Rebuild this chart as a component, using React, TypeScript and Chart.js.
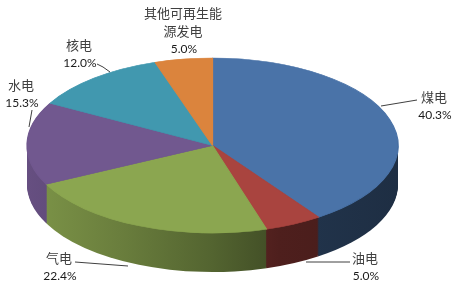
import { useEffect, useRef } from 'react';
import { Chart, registerables } from 'chart.js';

Chart.register(...registerables);

// ---- data ----
const categories = ['煤电', '油电', '气电', '水电', '核电', '其他可再生能源发电'];
const shares = [40.3, 5.0, 22.4, 15.3, 12.0, 5.0];
const valueLabels = ['40.3%', '5.0%', '22.4%', '15.3%', '12.0%', '5.0%'];

// ---- styles ----
const topColors = ['#4A73A8', '#A9443F', '#8BA650', '#71588F', '#4198AF', '#DB843D'];
const ELLIPSE = { cx: 212.5, cy: 145.5, rx: 185.5, ry: 87.5, depth: 39 };
const SIDE_STOPS: [number, number][] = [
  [0, 0.9],
  [0.25, 0.76],
  [0.5, 0.6],
  [0.68, 0.46],
  [1, 0.4],
];

// label layout: text centre, characters per name line, leader polyline
const labelLayout = [
  { x: 434, y: 97, wrap: 6, leader: [[381, 106], [417, 100]] },
  { x: 365, y: 258, wrap: 6, leader: [[306, 262], [350, 262]] },
  { x: 59, y: 258, wrap: 6, leader: [[128, 266], [75, 262]] },
  { x: 21, y: 85, wrap: 6, leader: [[29, 127], [32, 110]] },
  { x: 79, y: 45, wrap: 6, leader: [[110, 72], [103, 67], [97, 64]] },
  { x: 183, y: 13, wrap: 6, leader: [] as number[][] },
];

function shade(hex: string, f: number) {
  const n = parseInt(hex.slice(1), 16);
  const r = Math.round(((n >> 16) & 255) * f);
  const g = Math.round(((n >> 8) & 255) * f);
  const b = Math.round((n & 255) * f);
  return `rgb(${r},${g},${b})`;
}

const pie3d = {
  id: 'pie3d',
  beforeDatasetsDraw(chart: any) {
    const ctx: CanvasRenderingContext2D = chart.ctx;
    const arcs = chart.getDatasetMeta(0).data;
    const { cx, cy, rx, ry, depth } = ELLIPSE;
    const grads = topColors.map((c) => {
      const g = ctx.createLinearGradient(cx - rx, 0, cx + rx, 0);
      SIDE_STOPS.forEach(([t, f]) => g.addColorStop(t, shade(c, f)));
      return g;
    });
    for (let d = depth; d >= 1; d--) {
      arcs.forEach((arc: any, i: number) => {
        const p = arc.getProps(['x', 'y', 'startAngle', 'endAngle', 'outerRadius'], true);
        ctx.save();
        ctx.translate(cx, cy + d);
        ctx.scale(rx / p.outerRadius, ry / p.outerRadius);
        ctx.translate(-p.x, -p.y);
        ctx.beginPath();
        ctx.moveTo(p.x, p.y);
        ctx.arc(p.x, p.y, p.outerRadius, p.startAngle, p.endAngle);
        ctx.closePath();
        ctx.restore();
        ctx.fillStyle = grads[i];
        ctx.fill();
      });
    }
    const p0 = arcs[0].getProps(['x', 'y', 'outerRadius'], true);
    ctx.save();
    ctx.translate(cx, cy);
    ctx.scale(rx / p0.outerRadius, ry / p0.outerRadius);
    ctx.translate(-p0.x, -p0.y);
  },
  afterDatasetsDraw(chart: any) {
    chart.ctx.restore();
  },
  afterDraw(chart: any) {
    const ctx: CanvasRenderingContext2D = chart.ctx;
    ctx.save();
    ctx.strokeStyle = '#404040';
    ctx.lineWidth = 1;
    labelLayout.forEach((L, i) => {
      if (L.leader.length > 1) {
        ctx.beginPath();
        L.leader.forEach(([x, y], k) => (k === 0 ? ctx.moveTo(x, y) : ctx.lineTo(x, y)));
        ctx.stroke();
      }
      const name = categories[i];
      const lines: string[] = [];
      for (let s = 0; s < name.length; s += L.wrap) lines.push(name.slice(s, s + L.wrap));
      ctx.textAlign = 'center';
      ctx.textBaseline = 'middle';
      let y = L.y;
      ctx.fillStyle = '#404040';
      ctx.font = '13px "Noto Sans CJK SC"';
      lines.forEach((ln) => {
        ctx.fillText(ln, L.x, y);
        y += 18;
      });
      ctx.fillStyle = '#1a1a1a';
      ctx.font = '12px Lato';
      ctx.fillText(valueLabels[i], L.x + 1, y);
    });
    ctx.restore();
  },
};

export default function App() {
  const ref = useRef<HTMLCanvasElement>(null);
  useEffect(() => {
    document.body.style.margin = '0';
    const chart = new Chart(ref.current!, {
      type: 'pie',
      data: {
        labels: categories,
        datasets: [
          {
            data: shares,
            backgroundColor: topColors,
            borderColor: topColors,
            borderWidth: 1,
          },
        ],
      },
      options: {
        animation: false,
        responsive: false,
        devicePixelRatio: 1,
        events: [],
        plugins: { legend: { display: false }, tooltip: { enabled: false } },
      },
      plugins: [pie3d],
    });
    return () => chart.destroy();
  }, []);
  return (
    <div style={{ width: 458, height: 291 }}>
      <canvas ref={ref} width={458} height={291} />
    </div>
  );
}
